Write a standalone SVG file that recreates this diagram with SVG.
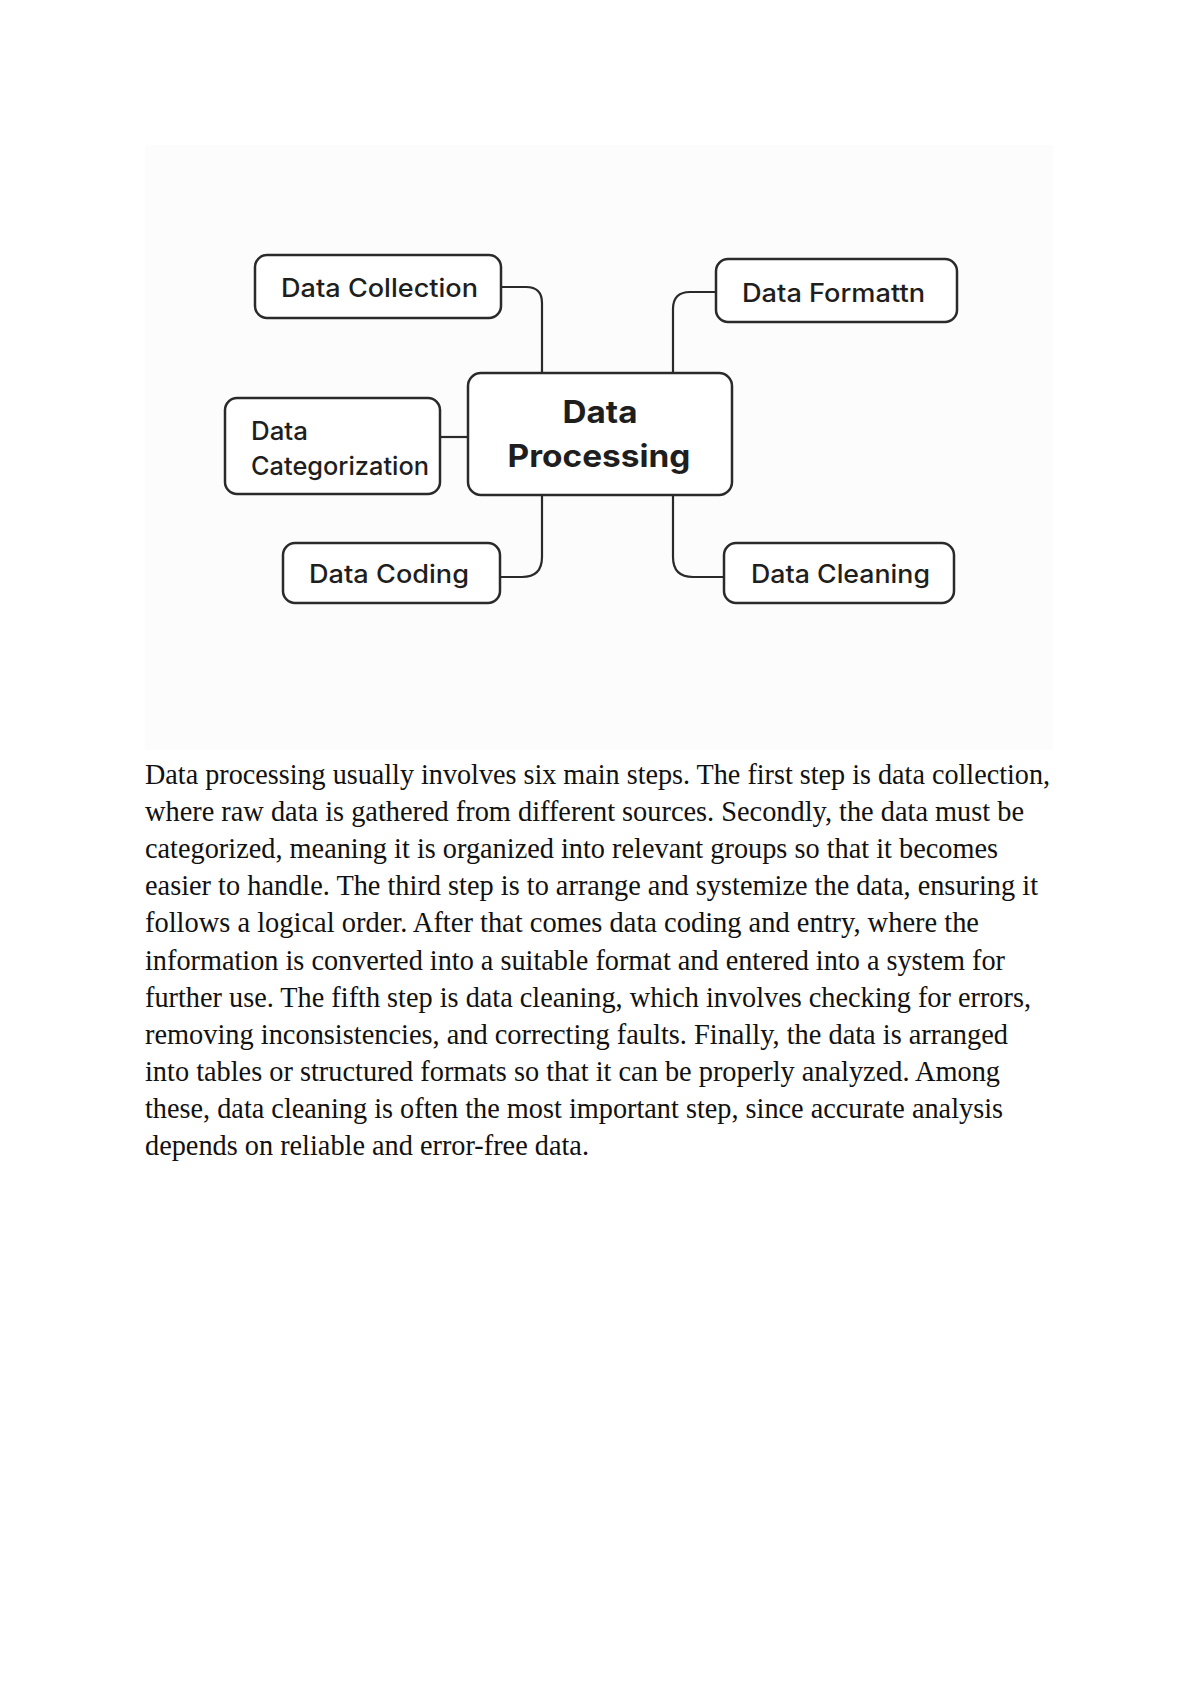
<svg xmlns="http://www.w3.org/2000/svg" width="1200" height="1696" viewBox="0 0 1200 1696">
  <style>
    .node rect { fill: #ffffff; stroke: #2a2a2a; stroke-width: 2.5; }
    .lbl { font-family: Inter, "Noto Sans", "DejaVu Sans", sans-serif; font-size: 25px; font-weight: 500; fill: #1e1e1e; }
    .big { font-family: Inter, "Noto Sans", "DejaVu Sans", sans-serif; font-size: 31px; font-weight: 700; fill: #1e1e1e; }
    .conn path { fill: none; stroke: #2a2a2a; stroke-width: 2.2; }
    .body { font-family: "Liberation Serif", "Times New Roman", serif; font-size: 29px; fill: #111111; }
  </style>
  <rect x="0" y="0" width="1200" height="1696" fill="#ffffff"/>
  <rect x="145" y="145" width="908" height="605" fill="#fcfcfc"/>

  <g id="connectors" class="conn">
    <path d="M501,287 H526 Q542,287 542,303 V373"/>
    <path d="M716,292 H690 Q673,292 673,309 V373"/>
    <path d="M440,437 H468"/>
    <path d="M542,495 V557 Q542,577 522,577 H500"/>
    <path d="M673,495 V557 Q673,577 693,577 H724"/>
  </g>

  <g id="node-processing" class="node">
    <rect x="468" y="373" width="264" height="122" rx="13"/>
    <text class="big" x="600" y="423" text-anchor="middle" textLength="75" lengthAdjust="spacingAndGlyphs">Data</text>
    <text class="big" x="599" y="467" text-anchor="middle" textLength="183" lengthAdjust="spacingAndGlyphs">Processing</text>
  </g>

  <g id="node-collection" class="node">
    <rect x="255" y="255" width="246" height="63" rx="12"/>
    <text class="lbl" x="281" y="297" textLength="197" lengthAdjust="spacingAndGlyphs">Data Collection</text>
  </g>

  <g id="node-formattn" class="node">
    <rect x="716" y="259" width="241" height="63" rx="12"/>
    <text class="lbl" x="742" y="302" textLength="183" lengthAdjust="spacingAndGlyphs">Data Formattn</text>
  </g>

  <g id="node-categorization" class="node">
    <rect x="225" y="398" width="215" height="96" rx="12"/>
    <text class="lbl" x="251" y="440" textLength="57" lengthAdjust="spacingAndGlyphs">Data</text>
    <text class="lbl" x="251" y="475" textLength="178" lengthAdjust="spacingAndGlyphs">Categorization</text>
  </g>

  <g id="node-coding" class="node">
    <rect x="283" y="543" width="217" height="60" rx="12"/>
    <text class="lbl" x="309" y="583" textLength="160" lengthAdjust="spacingAndGlyphs">Data Coding</text>
  </g>

  <g id="node-cleaning" class="node">
    <rect x="724" y="543" width="230" height="60" rx="12"/>
    <text class="lbl" x="751" y="583" textLength="179" lengthAdjust="spacingAndGlyphs">Data Cleaning</text>
  </g>

  <g id="paragraph" class="body">
    <text x="145" y="784" textLength="905" lengthAdjust="spacingAndGlyphs">Data processing usually involves six main steps. The first step is data collection,</text>
    <text x="145" y="821" textLength="879" lengthAdjust="spacingAndGlyphs">where raw data is gathered from different sources. Secondly, the data must be</text>
    <text x="145" y="858" textLength="853" lengthAdjust="spacingAndGlyphs">categorized, meaning it is organized into relevant groups so that it becomes</text>
    <text x="145" y="895" textLength="893" lengthAdjust="spacingAndGlyphs">easier to handle. The third step is to arrange and systemize the data, ensuring it</text>
    <text x="145" y="932" textLength="834" lengthAdjust="spacingAndGlyphs">follows a logical order. After that comes data coding and entry, where the</text>
    <text x="145" y="970" textLength="860" lengthAdjust="spacingAndGlyphs">information is converted into a suitable format and entered into a system for</text>
    <text x="145" y="1007" textLength="886" lengthAdjust="spacingAndGlyphs">further use. The fifth step is data cleaning, which involves checking for errors,</text>
    <text x="145" y="1044" textLength="863" lengthAdjust="spacingAndGlyphs">removing inconsistencies, and correcting faults. Finally, the data is arranged</text>
    <text x="145" y="1081" textLength="855" lengthAdjust="spacingAndGlyphs">into tables or structured formats so that it can be properly analyzed. Among</text>
    <text x="145" y="1118" textLength="858" lengthAdjust="spacingAndGlyphs">these, data cleaning is often the most important step, since accurate analysis</text>
    <text x="145" y="1155" textLength="444" lengthAdjust="spacingAndGlyphs">depends on reliable and error-free data.</text>
  </g>
</svg>
